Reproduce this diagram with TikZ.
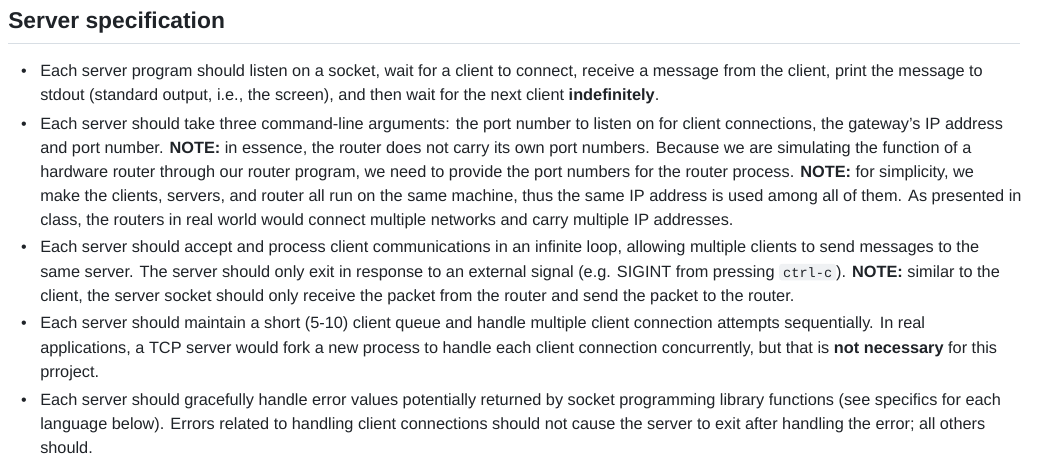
\documentclass[tikz,border=0pt]{standalone}
\usepackage{fontspec}
\setmainfont{Liberation Sans}
\newfontfamily\codefont{Liberation Mono}
\usetikzlibrary{positioning}
\definecolor{ghtext}{HTML}{1F2328}
\definecolor{ghrule}{HTML}{D8DEE4}
\definecolor{ghcode}{HTML}{EFF1F3}
\tikzset{
    x=0.75pt, y=-0.75pt,
    heading/.style={anchor=base west, inner sep=0pt, text=ghtext, font=\fontsize{17.1}{20}\selectfont\bfseries},
    line text/.style={anchor=base west, inner sep=0pt, text=ghtext, font=\fontsize{12.23}{14}\selectfont},
    bullet mark/.style={anchor=base, inner sep=0pt, text=ghtext, font=\fontsize{12}{14}\selectfont},
    code chip/.style={fill=ghcode, rounded corners=2pt, inner xsep=3pt, inner ysep=2.5pt, font=\codefont\fontsize{10.2}{12}\selectfont}
}
\newcommand{\chip}[1]{\tikz[baseline=(c.base)]\node[code chip] (c) {#1};}
\newcommand{\apos}{\char"27\relax}
\begin{document}
\begin{tikzpicture}
    \useasboundingbox (0,0) rectangle (1060,463);
    \node[heading] (title) at (8,29) {Server specification};
    \draw[ghrule, line width=0.75pt] (8,44) -- (1020,44);
    % bullets
    \foreach \y/\n in {77/b1, 130/b2, 253/b3, 329/b4, 405/b5}
        \node[bullet mark] (\n) at (24,\y) {•};
    % item 1
    \node[line text] (l1) at (40,77) {Each server program should listen on a socket, wait for a client to connect, receive a message from the client, print the message to};
    \node[line text] (l2) at (40,101) {stdout (standard output, i.e., the screen), and then wait for the next client \textbf{indefinitely}.};
    % item 2
    \node[line text] (l3) at (40,130) {Each server should take three command-line arguments: the port number to listen on for client connections, the gateway\apos s IP address};
    \node[line text] (l4) at (40,154) {and port number. \textbf{NOTE:} in essence, the router does not carry its own port numbers. Because we are simulating the function of a};
    \node[line text] (l5) at (40,178) {hardware router through our router program, we need to provide the port numbers for the router process. \textbf{NOTE:} for simplicity, we};
    \node[line text] (l6) at (40,202) {make the clients, servers, and router all run on the same machine, thus the same IP address is used among all of them. As presented in};
    \node[line text] (l7) at (40,226) {class, the routers in real world would connect multiple networks and carry multiple IP addresses.};
    % item 3
    \node[line text] (l8) at (40,253) {Each server should accept and process client communications in an infinite loop, allowing multiple clients to send messages to the};
    \node[line text] (l9) at (40,277) {same server. The server should only exit in response to an external signal (e.g. SIGINT from pressing \chip{ctrl-c}). \textbf{NOTE:} similar to the};
    \node[line text] (l10) at (40,301) {client, the server socket should only receive the packet from the router and send the packet to the router.};
    % item 4
    \node[line text] (l11) at (40,329) {Each server should maintain a short (5-10) client queue and handle multiple client connection attempts sequentially. In real};
    \node[line text] (l12) at (40,353) {applications, a TCP server would fork a new process to handle each client connection concurrently, but that is \textbf{not necessary} for this};
    \node[line text] (l13) at (40,377) {prroject.};
    % item 5
    \node[line text] (l14) at (40,405) {Each server should gracefully handle error values potentially returned by socket programming library functions (see specifics for each};
    \node[line text] (l15) at (40,429) {language below). Errors related to handling client connections should not cause the server to exit after handling the error; all others};
    \node[line text] (l16) at (40,453) {should.};
\end{tikzpicture}
\end{document}
